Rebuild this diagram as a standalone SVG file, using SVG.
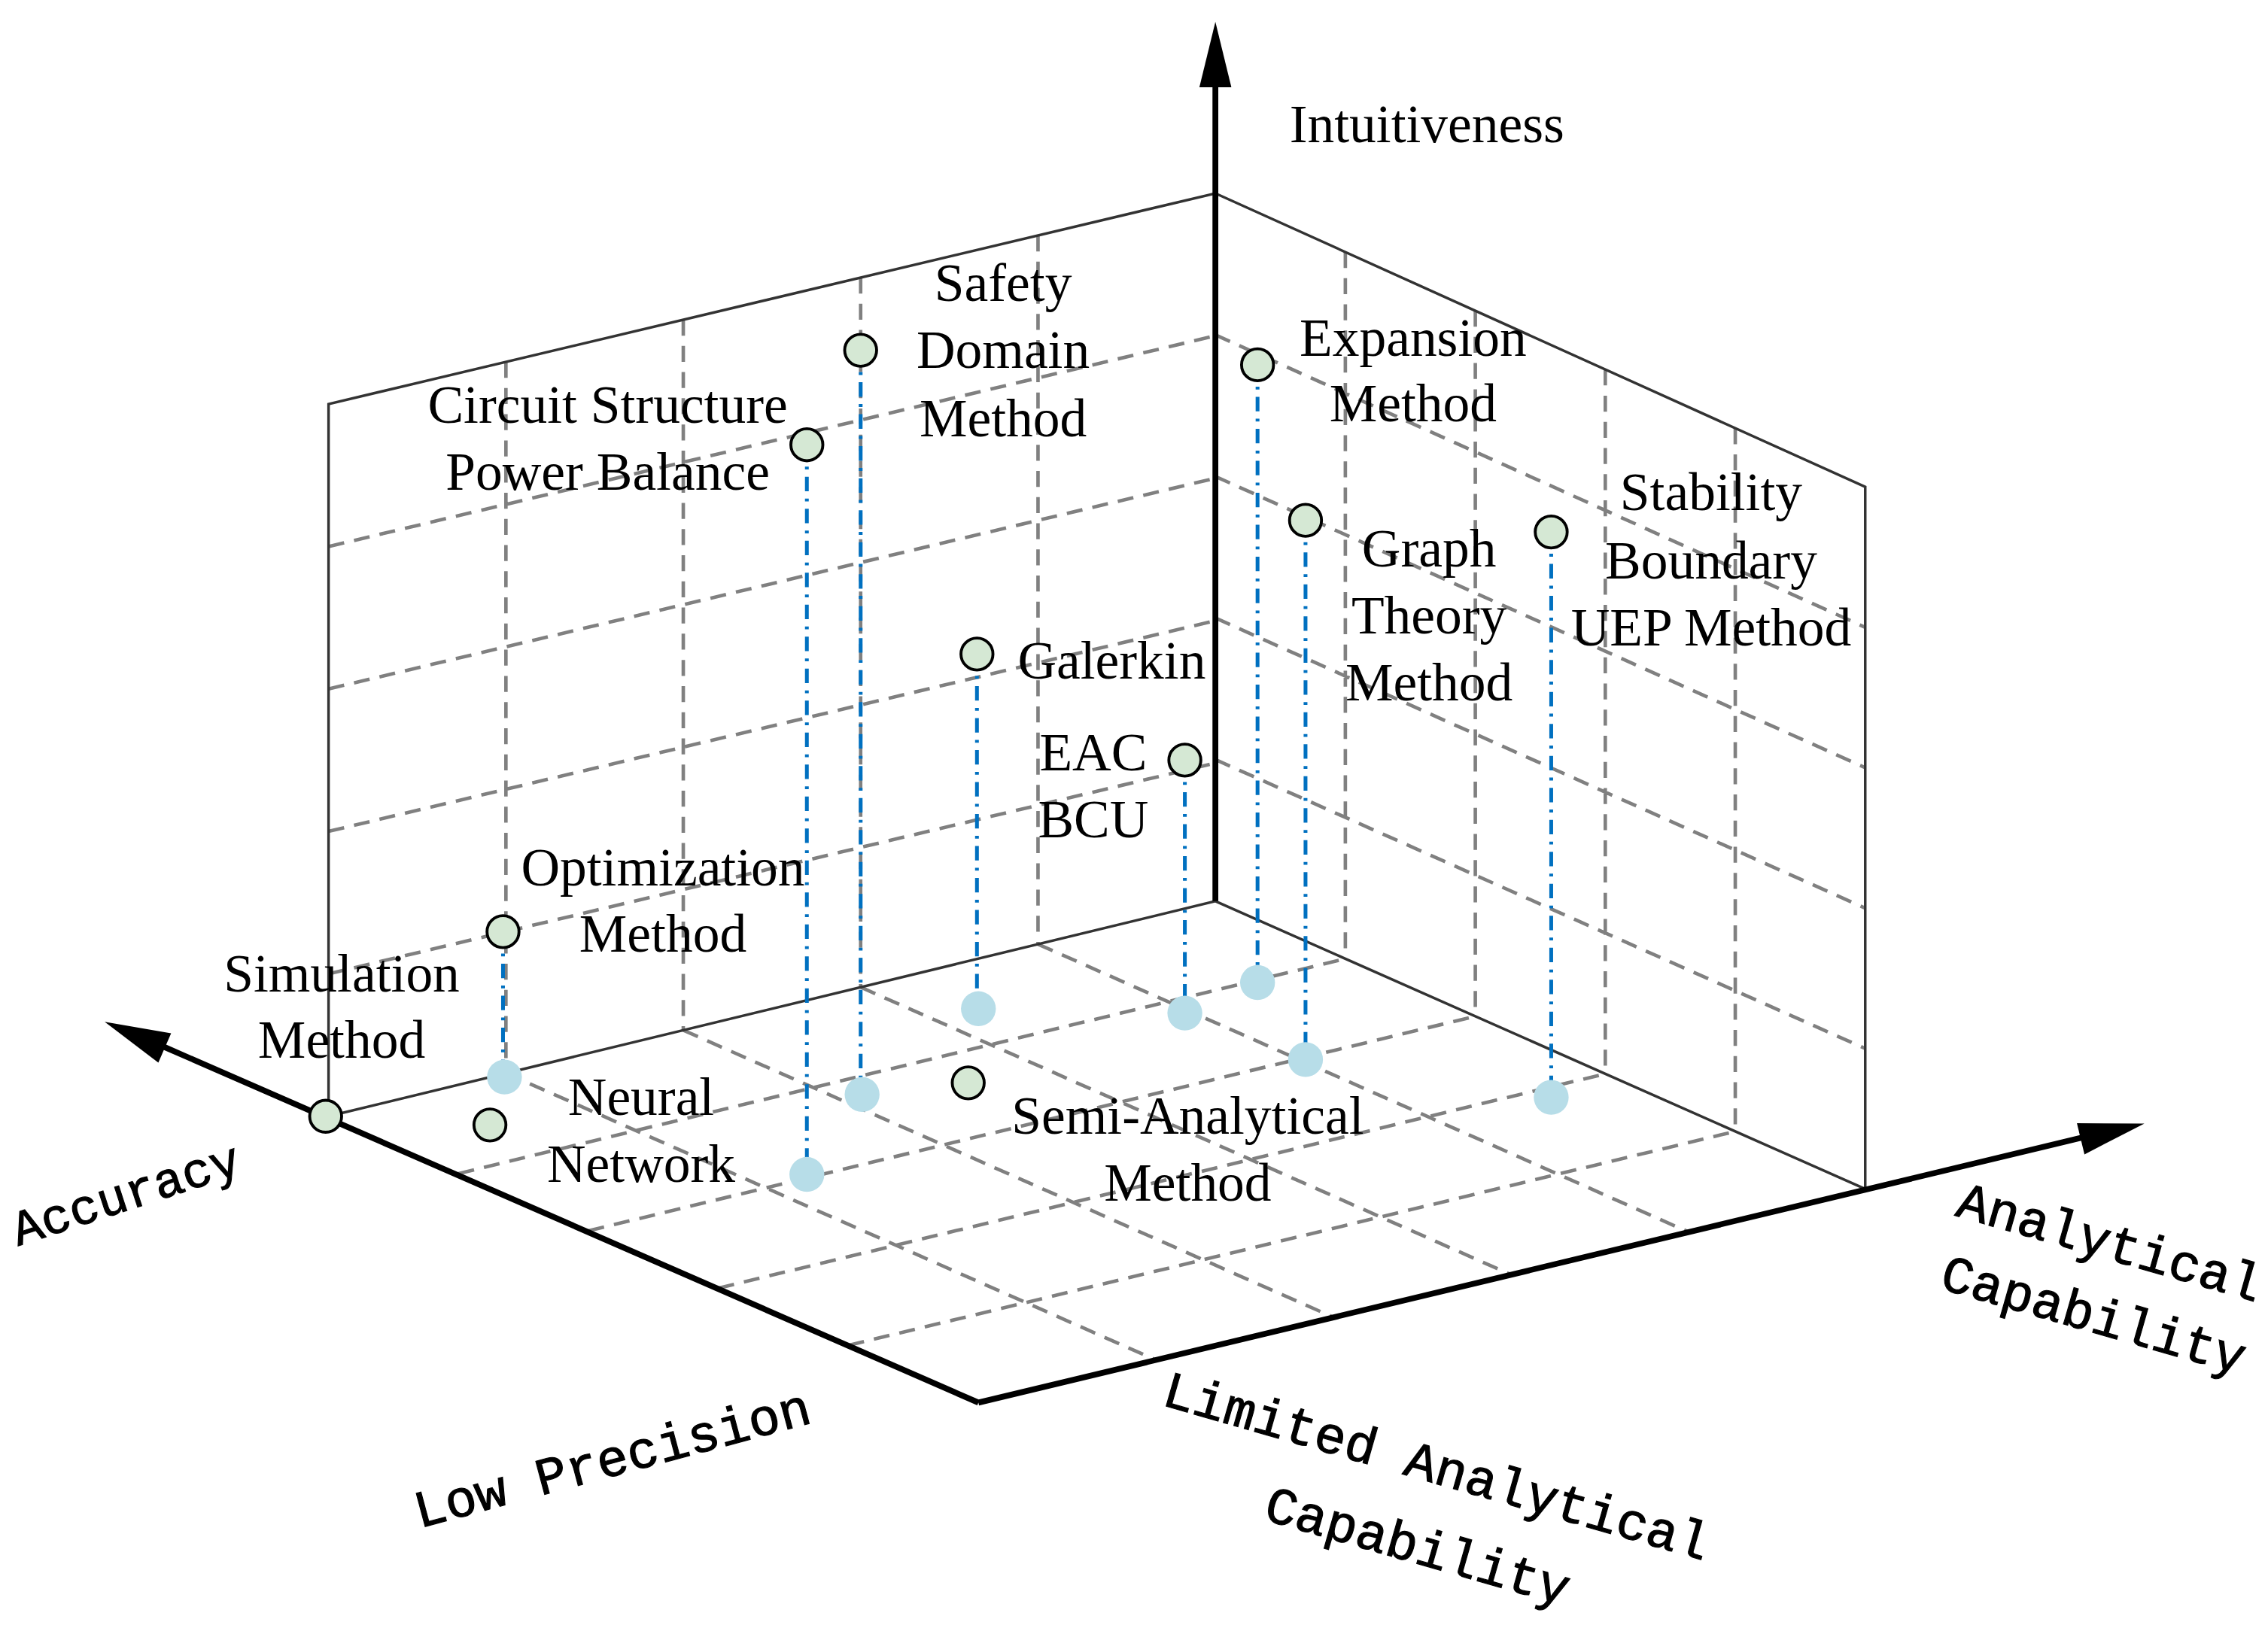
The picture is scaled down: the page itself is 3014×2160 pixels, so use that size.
<svg xmlns="http://www.w3.org/2000/svg" width="3014" height="2160" viewBox="0 0 3014 2160">
<style>
.g{stroke:#808080;stroke-width:2.4;stroke-dasharray:11 7;fill:none}
.e{stroke:#333;stroke-width:1.8;fill:none}
.ax{stroke:#000;stroke-width:4;fill:none}
.p{stroke:#0070c0;stroke-width:2.6;stroke-dasharray:10 5 2 5;fill:none}
.n{fill:#d5e8d4;stroke:#000;stroke-width:2}
.s{fill:#b7dde8}
.t{font-family:"Liberation Serif",serif;font-size:37px;fill:#000;text-anchor:middle}
.st{text-anchor:start}
.m{font-family:"Liberation Mono",monospace;font-size:36px;fill:#000;stroke:#000;stroke-width:0.6;text-anchor:middle}
</style>
<rect width="3014" height="2160" fill="#fff"/>
<g transform="scale(1.932)">
<g id="grid">
<path class="g" d="M348,738.4L795,935.6M470,708.8L917,906.2M592,679.2L1039,876.8M714,649.6L1161,847.4M315.4,807.4L925.4,659.6M404.8,846.8L1014.8,699.2M494.2,886.2L1104.2,738.8M583.6,925.6L1193.6,778.4"/>
<path class="g" d="M348,249L348,738.4M470,220L470,708.8M592,191L592,679.2M714,162L714,649.6M226,376L836,231M226,474L836,329M226,572L836,427M226,670L836,525"/>
<path class="g" d="M925.4,173.4L925.4,659.6M1014.8,213.8L1014.8,699.2M1104.2,254.2L1104.2,738.8M1193.6,294.6L1193.6,778.4M836,230.4L1283,431.6M836,327.8L1283,528.2M836,425.2L1283,624.8M836,522.6L1283,721.4"/>
<path class="e" d="M226,768L226,278L836,133L1283,335L1283,818M226,768L836,620L1283,818"/>
</g>
<g id="axes">
<path class="ax" d="M836,620L836,55M673,965L110,719M673,965L1435,782"/>
<polygon points="836,15 825,60 847,60"/>
<polygon points="72,703 117.7,710.9 108.9,731.1"/>
<polygon points="1475,773 1433.8,794.2 1428.6,772.8"/>
</g>
<g id="connectors">
<path class="p" d="M346,641V741M555,306V808M592,241V753M672,450V694M815,523V697M865,251V676M898,358V729M1067,366V755"/>
</g>
<g id="projections">
<circle class="s" cx="347" cy="741" r="12"/><circle class="s" cx="555" cy="808" r="12"/><circle class="s" cx="593" cy="753" r="12"/><circle class="s" cx="673" cy="694" r="12"/><circle class="s" cx="815" cy="697" r="12"/><circle class="s" cx="865" cy="676" r="12"/><circle class="s" cx="898" cy="729" r="12"/><circle class="s" cx="1067" cy="755" r="12"/>
</g>
<g id="n-simulation"><circle class="n" cx="224" cy="768" r="11"/><text class="t" x="235" y="682">Simulation</text><text class="t" x="235" y="728">Method</text></g>
<g id="n-neural"><circle class="n" cx="337" cy="774" r="11"/><text class="t" x="441" y="767">Neural</text><text class="t" x="441" y="813">Network</text></g>
<g id="n-optimization"><circle class="n" cx="346" cy="641" r="11"/><text class="t" x="456" y="609">Optimization</text><text class="t" x="456" y="655">Method</text></g>
<g id="n-circuit"><circle class="n" cx="555" cy="306" r="11"/><text class="t" x="418" y="291">Circuit Structure</text><text class="t" x="418" y="337">Power Balance</text></g>
<g id="n-safety"><circle class="n" cx="592" cy="241" r="11"/><text class="t" x="690" y="207">Safety</text><text class="t" x="690" y="253">Domain</text><text class="t" x="690" y="300">Method</text></g>
<g id="n-galerkin"><circle class="n" cx="672" cy="450" r="11"/><text class="t st" x="700" y="467">Galerkin</text></g>
<g id="n-eac"><circle class="n" cx="815" cy="523" r="11"/><text class="t" x="752" y="530">EAC</text><text class="t" x="752" y="576">BCU</text></g>
<g id="n-semi"><circle class="n" cx="666" cy="745" r="11"/><text class="t" x="817" y="780">Semi-Analytical</text><text class="t" x="817" y="826">Method</text></g>
<g id="n-expansion"><circle class="n" cx="865" cy="251" r="11"/><text class="t" x="972" y="245">Expansion</text><text class="t" x="972" y="290">Method</text></g>
<g id="n-graph"><circle class="n" cx="898" cy="358" r="11"/><text class="t" x="983" y="390">Graph</text><text class="t" x="983" y="436">Theory</text><text class="t" x="983" y="482">Method</text></g>
<g id="n-stability"><circle class="n" cx="1067" cy="366" r="11"/><text class="t" x="1177" y="351">Stability</text><text class="t" x="1177" y="398">Boundary</text><text class="t" x="1177" y="444">UEP Method</text></g>
<g id="labels">
<text class="t st" x="887" y="98">Intuitiveness</text>
<text class="m" transform="translate(90,832) rotate(-18)" style="font-size:34px">Accuracy</text>
<text class="m" transform="translate(424,1015) rotate(-15)">Low Precision</text>
<text class="m" transform="translate(985,1020) rotate(16)">Limited Analytical</text>
<text class="m" transform="translate(972,1075) rotate(16)">Capability</text>
<text class="m" transform="translate(1448,866) rotate(16)">Analytical</text>
<text class="m" transform="translate(1437,916) rotate(16)">Capability</text>
</g>
</g>
</svg>
